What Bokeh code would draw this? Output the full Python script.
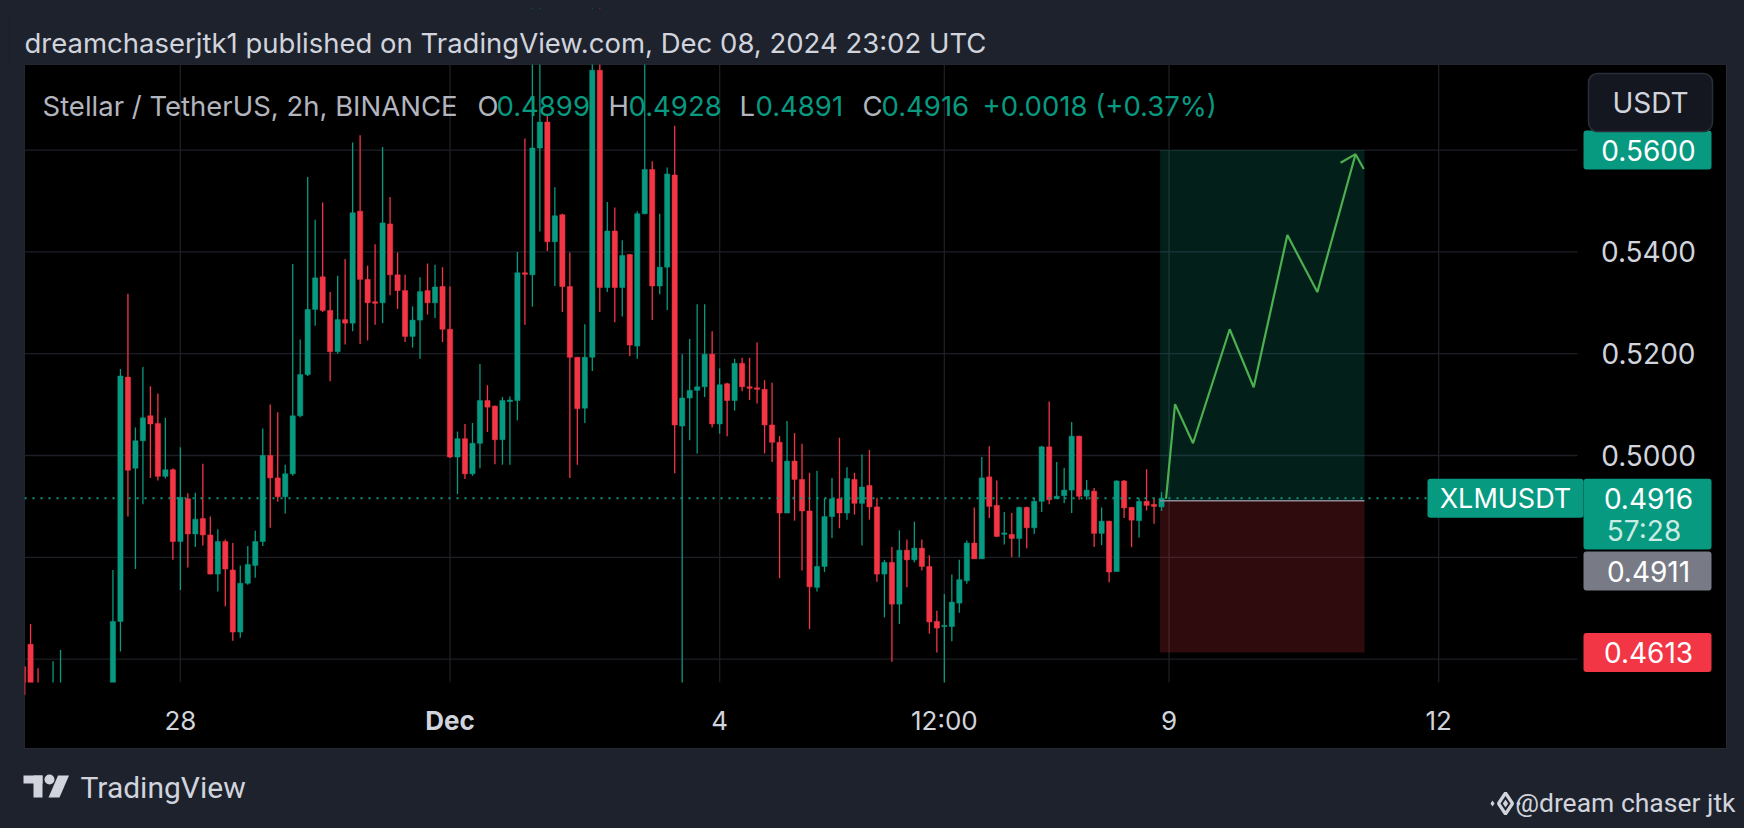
from bokeh.plotting import figure
from bokeh.models import Range1d
from bokeh.core.properties import value
from bokeh.embed import file_html
from bokeh.resources import INLINE

# ---------------- data ----------------
# 2h bars, bar index relative to Dec 1 00:00 UTC (bar -57 ... bar 95)
first_bar = -57
opens = [0.4585, 0.4629, 0.4550, 0.4520, 0.4500, 0.4525, 0.4545, 0.4500, 0.4470, 0.4500,
         0.4520, 0.4490, 0.4530, 0.4674, 0.5154, 0.4975, 0.5029, 0.5078, 0.5063, 0.4959,
         0.4972, 0.4831, 0.4915, 0.4846, 0.4876, 0.4844, 0.4767, 0.4831, 0.4775, 0.4653,
         0.4749, 0.4784, 0.4831, 0.5000, 0.4956, 0.4919, 0.4964, 0.5078, 0.5159, 0.5287,
         0.5351, 0.5285, 0.5204, 0.5267, 0.5260, 0.5480, 0.5346, 0.5302, 0.5300, 0.5455,
         0.5355, 0.5324, 0.5234, 0.5266, 0.5324, 0.5300, 0.5332, 0.5248, 0.4997, 0.5033,
         0.4964, 0.5024, 0.5108, 0.5097, 0.5031, 0.5106, 0.5108, 0.5359, 0.5355, 0.5604,
         0.5655, 0.5420, 0.5473, 0.5332, 0.5193, 0.5093, 0.5193, 0.5757, 0.5330, 0.5441,
         0.5330, 0.5395, 0.5215, 0.5475, 0.5562, 0.5333, 0.5370, 0.5551, 0.5058, 0.5113,
         0.5128, 0.5135, 0.5199, 0.5062, 0.5141, 0.5108, 0.5181, 0.5135, 0.5133, 0.5130,
         0.5060, 0.5026, 0.4887, 0.4989, 0.4953, 0.4891, 0.4741, 0.4782, 0.4880, 0.4915,
         0.4887, 0.4953, 0.4906, 0.4941, 0.4899, 0.4767, 0.4790, 0.4708, 0.4814, 0.4795,
         0.4818, 0.4782, 0.4674, 0.4664, 0.4664, 0.4710, 0.4754, 0.4828, 0.4797, 0.4958,
         0.4902, 0.4845, 0.4845, 0.4837, 0.4898, 0.4858, 0.4910, 0.5017, 0.4915, 0.4921,
         0.4932, 0.5038, 0.4920, 0.4930, 0.4847, 0.4871, 0.4772, 0.4950, 0.4898, 0.4872,
         0.4910, 0.4904, 0.4899]
highs = [0.4955, 0.4669, 0.4582, 0.4545, 0.4596, 0.4618, 0.4550, 0.4540, 0.4520, 0.4545,
         0.4548, 0.4540, 0.4775, 0.5170, 0.5318, 0.5055, 0.5174, 0.5136, 0.5122, 0.5074,
         0.4975, 0.5016, 0.4926, 0.4927, 0.4984, 0.4880, 0.4855, 0.4835, 0.4828, 0.4784,
         0.4822, 0.4852, 0.5053, 0.5100, 0.5085, 0.4982, 0.5376, 0.5228, 0.5547, 0.5463,
         0.5497, 0.5321, 0.5353, 0.5386, 0.5615, 0.5629, 0.5373, 0.5415, 0.5606, 0.5508,
         0.5399, 0.5355, 0.5293, 0.5350, 0.5377, 0.5375, 0.5370, 0.5332, 0.5047, 0.5062,
         0.5064, 0.5180, 0.5138, 0.5098, 0.5115, 0.5116, 0.5400, 0.5623, 0.5900, 0.5900,
         0.5669, 0.5527, 0.5475, 0.5399, 0.5193, 0.5258, 0.5900, 0.5900, 0.5498, 0.5487,
         0.5423, 0.5396, 0.5480, 0.5800, 0.5578, 0.5475, 0.5566, 0.5648, 0.5199, 0.5229,
         0.5297, 0.5297, 0.5244, 0.5171, 0.5143, 0.5190, 0.5192, 0.5192, 0.5222, 0.5148,
         0.5143, 0.5038, 0.5068, 0.5044, 0.5023, 0.4966, 0.4970, 0.4916, 0.4956, 0.5035,
         0.4977, 0.4966, 0.5002, 0.5011, 0.4917, 0.4795, 0.4820, 0.4853, 0.4835, 0.4870,
         0.4835, 0.4804, 0.4695, 0.4728, 0.4766, 0.4795, 0.4833, 0.4898, 0.4997, 0.5018,
         0.4951, 0.4889, 0.4887, 0.4900, 0.4900, 0.4917, 0.5019, 0.5106, 0.4987, 0.4976,
         0.5066, 0.5039, 0.4952, 0.4936, 0.4898, 0.4872, 0.4951, 0.4952, 0.4899, 0.4917,
         0.4973, 0.4917, 0.4928]
lows = [0.4500, 0.4510, 0.4500, 0.4490, 0.4485, 0.4510, 0.4480, 0.4460, 0.4440, 0.4470,
        0.4480, 0.4460, 0.4510, 0.4615, 0.4880, 0.4777, 0.4904, 0.4956, 0.4951, 0.4955,
        0.4795, 0.4736, 0.4780, 0.4820, 0.4823, 0.4766, 0.4733, 0.4704, 0.4636, 0.4642,
        0.4746, 0.4760, 0.4822, 0.4858, 0.4909, 0.4886, 0.4960, 0.5075, 0.5156, 0.5255,
        0.5282, 0.5146, 0.5200, 0.5218, 0.5244, 0.5219, 0.5226, 0.5257, 0.5260, 0.5315,
        0.5288, 0.5223, 0.5212, 0.5190, 0.5277, 0.5270, 0.5223, 0.4995, 0.4924, 0.4954,
        0.4960, 0.4975, 0.5046, 0.4983, 0.4982, 0.4982, 0.5069, 0.5257, 0.5292, 0.5440,
        0.5402, 0.5333, 0.5282, 0.4956, 0.4982, 0.5064, 0.5166, 0.5282, 0.5321, 0.5262,
        0.5273, 0.5195, 0.5190, 0.5474, 0.5266, 0.5317, 0.5286, 0.4965, 0.4530, 0.5030,
        0.5004, 0.5115, 0.5055, 0.5043, 0.5038, 0.5088, 0.5126, 0.5109, 0.5102, 0.5004,
        0.4987, 0.4759, 0.4887, 0.4872, 0.4774, 0.4659, 0.4733, 0.4771, 0.4838, 0.4857,
        0.4874, 0.4884, 0.4823, 0.4874, 0.4752, 0.4682, 0.4595, 0.4669, 0.4741, 0.4790,
        0.4774, 0.4650, 0.4613, 0.4553, 0.4635, 0.4691, 0.4748, 0.4797, 0.4797, 0.4877,
        0.4840, 0.4825, 0.4800, 0.4800, 0.4818, 0.4846, 0.4889, 0.4904, 0.4915, 0.4906,
        0.4887, 0.4913, 0.4913, 0.4820, 0.4824, 0.4751, 0.4772, 0.4877, 0.4820, 0.4839,
        0.4892, 0.4866, 0.4891]
closes = [0.4530, 0.4530, 0.4520, 0.4515, 0.4540, 0.4545, 0.4500, 0.4470, 0.4500, 0.4520,
          0.4490, 0.4530, 0.4674, 0.5156, 0.4971, 0.5029, 0.5074, 0.5062, 0.4959, 0.4972,
          0.4831, 0.4918, 0.4846, 0.4875, 0.4844, 0.4767, 0.4831, 0.4777, 0.4653, 0.4749,
          0.4786, 0.4831, 0.5000, 0.4956, 0.4919, 0.4964, 0.5078, 0.5159, 0.5287, 0.5349,
          0.5285, 0.5204, 0.5267, 0.5260, 0.5477, 0.5346, 0.5300, 0.5299, 0.5457, 0.5355,
          0.5324, 0.5234, 0.5266, 0.5322, 0.5300, 0.5331, 0.5248, 0.4997, 0.5033, 0.4964,
          0.5024, 0.5108, 0.5095, 0.5031, 0.5108, 0.5109, 0.5359, 0.5356, 0.5604, 0.5655,
          0.5420, 0.5471, 0.5332, 0.5193, 0.5092, 0.5193, 0.5757, 0.5330, 0.5441, 0.5330,
          0.5393, 0.5217, 0.5475, 0.5562, 0.5333, 0.5370, 0.5553, 0.5060, 0.5113, 0.5128,
          0.5135, 0.5199, 0.5062, 0.5139, 0.5108, 0.5181, 0.5135, 0.5132, 0.5130, 0.5060,
          0.5026, 0.4887, 0.4989, 0.4953, 0.4891, 0.4742, 0.4782, 0.4880, 0.4915, 0.4887,
          0.4955, 0.4906, 0.4938, 0.4899, 0.4767, 0.4790, 0.4708, 0.4814, 0.4795, 0.4818,
          0.4782, 0.4673, 0.4661, 0.4666, 0.4712, 0.4756, 0.4828, 0.4797, 0.4956, 0.4900,
          0.4841, 0.4848, 0.4837, 0.4898, 0.4858, 0.4910, 0.5017, 0.4913, 0.4920, 0.4932,
          0.5038, 0.4920, 0.4932, 0.4847, 0.4871, 0.4771, 0.4950, 0.4897, 0.4873, 0.4910,
          0.4902, 0.4900, 0.4916]

time_ticks = [-36, 0, 36, 66, 96, 132]
time_labels = ["28", "Dec", "4", "12:00", "9", "12"]
time_bold = [False, True, False, False, False, False]
price_grid = [0.46, 0.48, 0.50, 0.52, 0.54, 0.56]
price_labels = [0.50, 0.52, 0.54]

symbol = "XLMUSDT"
last_price = 0.4916
countdown = "57:28"
entry_price = 0.4911
target_price = 0.5600
stop_price = 0.4613
tool_start, tool_end = 94.8, 122.1
path_bars = [95.6, 96.8, 99.2, 104.1, 107.3, 111.8, 115.8, 120.9]
path_prices = [0.4915, 0.5101, 0.5024, 0.5248, 0.5134, 0.5433, 0.5321, 0.5592]
head_bars = [118.9, 120.9, 122.0]
head_prices = [0.5575, 0.5592, 0.5563]

legend_parts = ["Stellar / TetherUS, 2h, BINANCE", "O", "0.4899", "H", "0.4928",
                "L", "0.4891", "C", "0.4916", "+0.0018 (+0.37%)"]
header_text = "dreamchaserjtk1 published on TradingView.com, Dec 08, 2024 23:02 UTC"

# ---------------- page geometry (page pixels -> data) ----------------
X_DEC, PX_K = 449.5, 7.49
Y_050, PX_U = 455.0, 5090.0

def kx(X):
    return (X - X_DEC) / PX_K

def py(Y):
    return 0.5 + (Y_050 - Y) / PX_U

GREEN = "#089981"
RED = "#f23645"
OUTER = "#1e222d"
GRID = "#1c1f26"
TXT = "#d1d4dc"

p = figure(width=1728, height=812, x_range=Range1d(kx(8), kx(1736)),
           y_range=Range1d(py(820), py(8)), x_axis_location=None, y_axis_location=None,
           toolbar_location=None, output_backend="svg", min_border=0, title=None,
           background_fill_color=OUTER, border_fill_color=OUTER, outline_line_color=None)
p.xgrid.visible = False
p.ygrid.visible = False

BOX_L, BOX_R, BOX_T, BOX_B = 24, 1726, 64, 748
PLOT_R, PLOT_B = 1577, 682

# chart box
p.quad(left=[kx(BOX_L)], right=[kx(BOX_R)], top=[py(BOX_T)], bottom=[py(BOX_B)],
       fill_color="#000000", line_color="#262a33", line_width=1)

# grid
p.segment(x0=[kx(BOX_L)] * len(price_grid), x1=[kx(PLOT_R)] * len(price_grid),
          y0=price_grid, y1=price_grid, line_color=GRID, line_width=1.3)
p.segment(x0=time_ticks, x1=time_ticks, y0=[py(BOX_T)] * len(time_ticks),
          y1=[py(PLOT_B)] * len(time_ticks), line_color=GRID, line_width=1.3)

# position tool
p.quad(left=[tool_start], right=[tool_end], bottom=[entry_price], top=[target_price],
       fill_color=GREEN, fill_alpha=0.2, line_color=None)
p.quad(left=[tool_start], right=[tool_end], bottom=[stop_price], top=[entry_price],
       fill_color=RED, fill_alpha=0.2, line_color=None)

# candles
xs = list(range(first_bar, first_bar + len(opens)))
cols = [GREEN if c >= o else RED for o, c in zip(opens, closes)]
tops, bots = [], []
for o, c in zip(opens, closes):
    t, b = max(o, c), min(o, c)
    if t - b < 0.00025:
        m = (t + b) / 2
        t, b = m + 0.000125, m - 0.000125
    tops.append(t)
    bots.append(b)
p.segment(x0=xs, x1=xs, y0=lows, y1=highs, line_color=cols, line_width=1.3)
p.vbar(x=xs, width=0.7, top=tops, bottom=bots, fill_color=cols, line_color=cols, line_width=0.5)

# price lines
p.segment(x0=[kx(BOX_L)], x1=[kx(1427)], y0=[last_price], y1=[last_price],
          line_color=GREEN, line_width=2, line_dash="2 6")
p.segment(x0=[tool_start], x1=[tool_end], y0=[entry_price], y1=[entry_price],
          line_color="#8a8d96", line_width=1.5)
p.line(path_bars, path_prices, line_color="#4caf50", line_width=2.2)
p.line(head_bars, head_prices, line_color="#4caf50", line_width=2.2)

# covers (clip to chart box / plot area)
p.quad(left=[kx(8)], right=[kx(1736)], top=[py(8)], bottom=[py(BOX_T)],
       fill_color=OUTER, line_color=None)
p.quad(left=[kx(8)], right=[kx(BOX_L)], top=[py(8)], bottom=[py(820)],
       fill_color=OUTER, line_color=None)
p.quad(left=[kx(BOX_L + 1)], right=[kx(BOX_R - 1)], top=[py(PLOT_B)], bottom=[py(BOX_B - 1)],
       fill_color="#000000", line_color=None)


def txt(xv, yv, texts, size, color, align="left", font="Inter", style="normal"):
    p.text(x=xv, y=yv, text=texts, text_font=value(font), text_font_size=value(size),
           text_color=color, text_align=align, text_baseline="middle", text_font_style=style)


# time axis labels
nb = [i for i, b in enumerate(time_bold) if not b]
bd = [i for i, b in enumerate(time_bold) if b]
txt([time_ticks[i] for i in nb], [py(720)] * len(nb), [time_labels[i] for i in nb],
    "26px", TXT, "center")
txt([time_ticks[i] for i in bd], [py(720)] * len(bd), [time_labels[i] for i in bd],
    "26px", TXT, "center", style="bold")

# price axis labels
LAB_C = kx(1648)
txt([LAB_C] * len(price_labels), price_labels, ["%.4f" % v for v in price_labels],
    "28px", TXT, "center")

# price tag boxes
H = 19.5 / PX_U
p.quad(left=[kx(1583)], right=[kx(1711)], top=[target_price + H], bottom=[target_price - H],
       fill_color=GREEN, line_color=None, border_radius=3)
txt([LAB_C], [target_price], ["%.4f" % target_price], "28px", "#ffffff", "center")

p.quad(left=[kx(1427)], right=[kx(1583)], top=[last_price + H], bottom=[last_price - H],
       fill_color=GREEN, line_color=None, border_radius=3)
txt([kx(1505)], [last_price], [symbol], "27px", "#ffffff", "center")
p.quad(left=[kx(1583)], right=[kx(1711)], top=[last_price + H], bottom=[py(549)],
       fill_color=GREEN, line_color=None, border_radius=3)
txt([LAB_C], [last_price], ["%.4f" % last_price], "28px", "#ffffff", "center")
txt([LAB_C - 0.6], [py(530)], [countdown], "28px", "#c8ece3", "center")

p.quad(left=[kx(1583)], right=[kx(1711)], top=[py(551)], bottom=[py(590)],
       fill_color="#787b86", line_color=None, border_radius=3)
txt([LAB_C], [py(570.5)], ["%.4f" % entry_price], "28px", "#ffffff", "center")

p.quad(left=[kx(1583)], right=[kx(1711)], top=[stop_price + H], bottom=[stop_price - H],
       fill_color=RED, line_color=None, border_radius=3)
txt([LAB_C], [stop_price], ["%.4f" % stop_price], "28px", "#ffffff", "center")

# currency button
p.quad(left=[kx(1588)], right=[kx(1712)], top=[py(73)], bottom=[py(131)],
       fill_color="#14171f", line_color="#2a2e39", line_width=1.5, border_radius=9)
txt([kx(1650)], [py(102)], ["USDT"], "28px", TXT, "center")

# legend line
leg_x = [42, 477, 496, 608, 628, 739, 755, 862, 881, 982]
leg_c = ["#b2b5be", "#b2b5be", GREEN, "#b2b5be", GREEN, "#b2b5be", GREEN, "#b2b5be", GREEN, GREEN]
for xx, tt, cc in zip(leg_x, legend_parts, leg_c):
    txt([kx(xx)], [py(105)], [tt], "27.5px", cc, "left")

# header
txt([kx(24)], [py(42)], [header_text], "27.5px", TXT, "left")

# footer: TradingView logo + text
p.quad(left=[kx(23)], right=[kx(42)], top=[py(775)], bottom=[py(783)], fill_color=TXT, line_color=None)
p.quad(left=[kx(33)], right=[kx(42)], top=[py(775)], bottom=[py(797)], fill_color=TXT, line_color=None)
p.scatter([kx(49)], [py(779)], size=10, marker="circle", fill_color=TXT, line_color=None)
p.patch([kx(57.5), kx(68.5), kx(59), kx(48)], [py(775), py(775), py(797), py(797)],
        fill_color=TXT, line_color=None)
txt([kx(80)], [py(787)], ["TradingView"], "30px", TXT, "left", font="Roboto")

# footer: watermark (exchange mark + handle)
bx, by = 1505, 803
p.scatter([kx(bx)], [py(by)], size=21, marker="diamond", fill_color=None,
          line_color=TXT, line_width=3.2)
p.scatter([kx(bx), kx(bx - 13), kx(bx + 13)], [py(by), py(by), py(by)],
          size=[8, 6, 6], marker="diamond", fill_color=TXT, line_color=None)
txt([kx(1735)], [py(802)], ["@dream chaser jtk"], "26.5px", TXT, "right", font="Roboto")

html = file_html(p, INLINE, title="XLMUSDT")
html = html.replace("</head>",
                    "<style>html,body{background:#1e222d !important;}"
                    "body{margin:8px !important;height:auto !important;}</style></head>", 1)
open("out.html", "w").write(html)
